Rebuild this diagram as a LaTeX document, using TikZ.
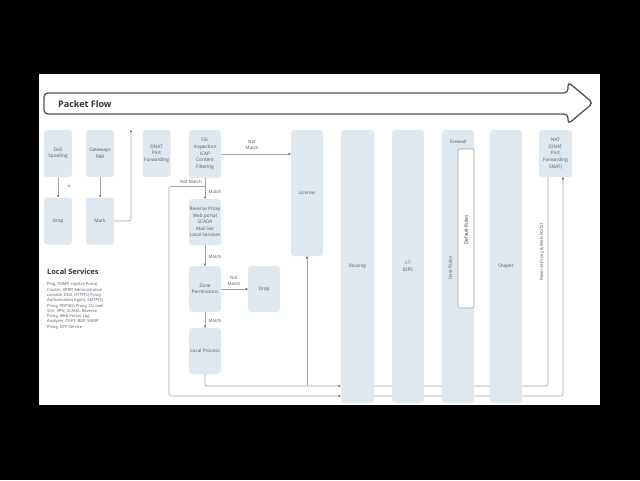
\documentclass[tikz,border=0pt]{standalone}
\usepackage{fontspec}
\setmainfont{Open Sans}
\usetikzlibrary{arrows.meta,calc}
\pgfdeclarelayer{pagebg}
\pgfdeclarelayer{wires}
\pgfsetlayers{pagebg,wires,main}
\definecolor{boxfill}{HTML}{DFE7EF}
\definecolor{wire}{HTML}{A3A3A3}
\definecolor{tipc}{HTML}{505050}
\definecolor{txt}{HTML}{505B65}
\definecolor{bannerc}{HTML}{4A545C}
\begin{document}
\begin{tikzpicture}[x=1pt,y=-1pt,
  box/.style={fill=boxfill, rounded corners=3pt, inner sep=0pt, align=center,
    font=\fontsize{4.7}{6.6}\selectfont, text=txt},
  lbl/.style={inner sep=0pt, align=center, font=\fontsize{4.4}{5.6}\selectfont, text=txt},
  conn/.style={draw=wire, line width=0.6pt, rounded corners=2pt},
  arr/.style={-{Stealth[length=2.4pt,width=2.2pt,color=tipc]}}]
\begin{pgfonlayer}{pagebg}
  \fill[black] (0,0) rectangle (640,480);
  \fill[white] (39,74) rectangle (600,405);
\end{pgfonlayer}
\useasboundingbox (0,0) rectangle (640,480);

% banner
\draw[bannerc, line width=1.3pt, rounded corners=4pt]
  (44,93) -- (568,93) -- (568,82) -- (593,103) -- (568,124) -- (568,114) -- (44,114) -- cycle;
\node[anchor=west, inner sep=0pt, font=\bfseries\fontsize{9}{10}\selectfont, text=black!80] (title) at (58,104) {Packet Flow};

% boxes
\node[box, minimum width=28pt, minimum height=47pt] (dos) at (58,153.5) {DoS\\Spoofing};
\node[box, minimum width=28pt, minimum height=47pt] (drop1) at (58,221) {Drop};
\node[box, minimum width=28pt, minimum height=47pt] (gw) at (100,153.5) {Gateways\\PBR};
\node[box, minimum width=28pt, minimum height=47pt] (mark) at (100,221) {Mark};
\node[box, minimum width=28pt, minimum height=47pt] (dnat) at (156.5,153.5) {DNAT\\Port\\Forwarding};
\node[box, minimum width=32pt, minimum height=48pt] (ssl) at (205,154) {SSL\\Inspection\\ICAP\\Content\\Filtering};
\node[box, minimum width=32pt, minimum height=46pt] (rp) at (205,222) {Reverse Proxy\\Web portal\\SCADA\\Mail Sec\\Local Services};
\node[box, minimum width=32pt, minimum height=46pt] (zone) at (205,289) {Zone\\Permissions};
\node[box, minimum width=32pt, minimum height=46pt] (drop2) at (264,289) {Drop};
\node[box, minimum width=32pt, minimum height=46pt] (lp) at (205,351) {Local Process};
\node[box, minimum width=32pt, minimum height=126pt] (lic) at (307,193) {License};
\node[box, minimum width=33pt, minimum height=273pt] (routing) at (357.5,266.5) {Routing};
\node[box, minimum width=32pt, minimum height=273pt] (l7) at (408,266.5) {L7\\IDPS};
\node[box, minimum width=32pt, minimum height=273pt] (fw) at (458,266.5) {};
\node[box, minimum width=32pt, minimum height=273pt] (shaper) at (506,266.5) {Shaper};
\node[box, minimum width=33pt, minimum height=47pt] (nat) at (555.5,153.5) {NAT\\(DNAT\\Port\\Forwarding\\SNAT)};
\node[lbl, font=\fontsize{4.7}{6}\selectfont] (fwl) at (458,142) {Firewall};
\node[lbl, font=\fontsize{4.7}{6}\selectfont, rotate=90] (userr) at (450,268) {User Rules};
\node[draw=wire, fill=white, line width=0.6pt, rounded corners=2pt, minimum width=16pt, minimum height=159pt, inner sep=0pt] (defr) at (466,228.5) {};
\node[lbl, font=\fontsize{4.7}{6}\selectfont, rotate=90, text=black!85] (defrl) at (466,230) {Default Rules};

% local services
\node[anchor=west, inner sep=0pt, font=\bfseries\fontsize{7.4}{9}\selectfont, text=black!80] (lsh) at (47,272) {Local Services};
\node[anchor=north west, inner sep=0pt, align=left, font=\fontsize{4.1}{5.3}\selectfont, text=txt] (lst) at (47,282.5)
 {Ping, SNMP, Captive Portal,\\Cluster, VRRP, Administrative\\console, DNS, HTTP(S) Proxy,\\Authorization Agent, SMTP(S)\\Proxy, POP3(S) Proxy, CLI over\\SSH, VPN, SCADA, Reverse\\Proxy, Web Portal, Log\\Analyzer, OSPF, BGP, SNMP\\Proxy, NTP Service};

\node[lbl, font=\fontsize{6}{6}\selectfont] (plus) at (69,187) {+};

% coordinates
\coordinate (yA) at (0,386);
\coordinate (yB) at (0,396);
\coordinate (markup) at (131,130);
\coordinate (nmS) at (205,186.5);
\coordinate (nmL) at (169,186.5);
\coordinate (natL) at ([xshift=-7.5pt]nat.south);
\coordinate (natR) at ([xshift=7.5pt]nat.south);

\begin{pgfonlayer}{wires}
\draw[conn, arr] (dos) -- (drop1);
\draw[conn, arr] (gw) -- (mark);
\draw[conn, arr] (mark.east) -| (markup);
\draw[conn, arr] (ssl.east) -- (ssl.east -| lic.west);
\draw[conn, arr] (ssl) -- (rp);
\draw[conn, arr] (rp) -- (zone);
\draw[conn, arr] (zone) -- (drop2);
\draw[conn, arr] (zone) -- (lp);
\draw[conn, arr] (nmS) -- (nmL) |- (routing.west |- yB);
\draw[conn, arr] (routing.west |- yB) -| (natR);
\draw[conn, arr] (lp.south) |- (routing.west |- yA);
\draw[conn] (routing.west |- yA) -| (natL);
\draw[conn, arr] (lic.south |- yA) -- (lic.south);
\end{pgfonlayer}

% connector labels
\node[lbl] (l1) at (252,145) {Not\\Match};
\node[lbl] (l2) at (191,182) {Not Match};
\node[lbl] (l3) at (215,192) {Match};
\node[lbl] (l4) at (215,257) {Match};
\node[lbl] (l5) at (234,281) {Not\\Match};
\node[lbl] (l6) at (215,321) {Match};
\node[lbl, rotate=90] (l7l) at (542,252) {Reverse Proxy \& Web Portal};
\end{tikzpicture}
\end{document}
